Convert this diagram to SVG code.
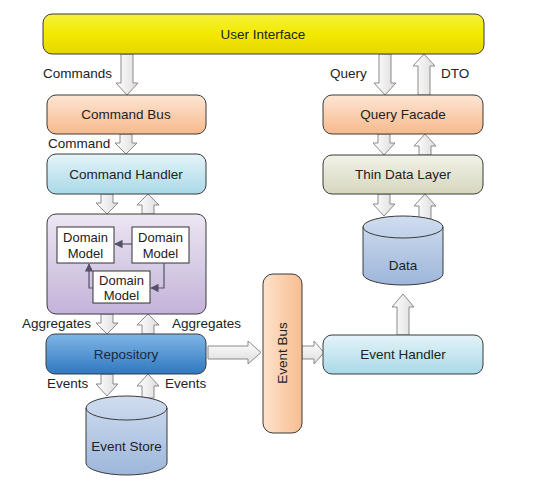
<svg xmlns="http://www.w3.org/2000/svg" width="537" height="486" viewBox="0 0 537 486">
<defs>
<linearGradient id="gYellow" x1="0" y1="0" x2="0" y2="1"><stop offset="0" stop-color="#f6f03a"/><stop offset="0.5" stop-color="#f2ea00"/><stop offset="1" stop-color="#e6d600"/></linearGradient>
<linearGradient id="gPeach" x1="0" y1="0" x2="0" y2="1"><stop offset="0" stop-color="#fde6d4"/><stop offset="1" stop-color="#f7b98c"/></linearGradient>
<linearGradient id="gPeachH" x1="0" y1="0" x2="1" y2="0"><stop offset="0" stop-color="#fde2cc"/><stop offset="1" stop-color="#f8bd90"/></linearGradient>
<linearGradient id="gCyan" x1="0" y1="0" x2="0" y2="1"><stop offset="0" stop-color="#e4f4f8"/><stop offset="1" stop-color="#a9d9e8"/></linearGradient>
<linearGradient id="gLav" x1="0" y1="0" x2="0" y2="1"><stop offset="0" stop-color="#ece6f2"/><stop offset="1" stop-color="#c3b3d9"/></linearGradient>
<linearGradient id="gBlue" x1="0" y1="0" x2="0" y2="1"><stop offset="0" stop-color="#7fb6e6"/><stop offset="1" stop-color="#2f78c0"/></linearGradient>
<linearGradient id="gOlive" x1="0" y1="0" x2="0" y2="1"><stop offset="0" stop-color="#f2f2e8"/><stop offset="1" stop-color="#d6d6bf"/></linearGradient>
<linearGradient id="gCyl" x1="0" y1="0" x2="0" y2="1"><stop offset="0" stop-color="#d0ddef"/><stop offset="1" stop-color="#9db6da"/></linearGradient>
<linearGradient id="gArrV" x1="0" y1="0" x2="1" y2="0"><stop offset="0" stop-color="#ffffff"/><stop offset="1" stop-color="#dcdcdc"/></linearGradient>
<linearGradient id="gArrH" x1="0" y1="0" x2="0" y2="1"><stop offset="0" stop-color="#ffffff"/><stop offset="1" stop-color="#dcdcdc"/></linearGradient>
<marker id="ah" viewBox="0 0 10 10" refX="9" refY="5" markerWidth="7" markerHeight="7" orient="auto"><path d="M0,0 L10,5 L0,10 Z" fill="#55506a"/></marker>
<style>
.box{stroke:#3a3a3a;stroke-width:1}
.t{font-family:"Liberation Sans",Arial,sans-serif;font-size:13.5px;fill:#222;text-anchor:middle}
.d{font-family:"Liberation Sans",Arial,sans-serif;font-size:13px;fill:#222;text-anchor:middle}
.l{font-family:"Liberation Sans",Arial,sans-serif;font-size:13.5px;fill:#222}
.av{fill:url(#gArrV);stroke:#8a8a8a;stroke-width:1}
.ah{fill:url(#gArrH);stroke:#8a8a8a;stroke-width:1}
.dm{fill:#fff;stroke:#333;stroke-width:1}
.ln{fill:none;stroke:#55506a;stroke-width:1.2;marker-end:url(#ah)}
</style>
</defs>
<rect width="537" height="486" fill="#ffffff"/>

<g id="connectors">
<path class="av" d="M121,54 H133 V83 H138 L127,95 L116,83 H121 Z"/>
<path class="av" d="M379,54 H391 V83 H396 L385,95 L374,83 H379 Z"/>
<path class="av" d="M418,95 H430 V66 H435 L424,54 L413,66 H418 Z"/>
<path class="av" d="M120,134 H132 V143 H137 L126,154 L115,143 H120 Z"/>
<path class="av" d="M101,194 H113 V203 H118 L107,214 L96,203 H101 Z"/>
<path class="av" d="M142,214 H154 V205 H159 L148,194 L137,205 H142 Z"/>
<path class="av" d="M101,314 H113 V323 H118 L107,334 L96,323 H101 Z"/>
<path class="av" d="M142,334 H154 V325 H159 L148,314 L137,325 H142 Z"/>
<path class="av" d="M101,374 H113 V384 H118 L107,396 L96,384 H101 Z"/>
<path class="av" d="M142,398 H154 V386 H159 L148,374 L137,386 H142 Z"/>
<path class="av" d="M378,134 H390 V143 H395 L384,155 L373,143 H378 Z"/>
<path class="av" d="M419,155 H431 V146 H436 L425,134 L414,146 H419 Z"/>
<path class="av" d="M378,194 H390 V204 H395 L384,216 L373,204 H378 Z"/>
<path class="av" d="M419,219 H431 V206 H436 L425,194 L414,206 H419 Z"/>
<path class="av" d="M397,335 H409 V307 H414 L403,294 L392,307 H397 Z"/>
<path class="ah" d="M208,346 V359 H248 V364 L261,352.5 L248,341 V346 Z"/>
<path class="ah" d="M302,346 V359 H314 V364 L324,352.5 L314,341 V346 Z"/>
</g>

<g id="user-interface">
<rect class="box" x="43" y="14" width="441" height="40" rx="9" fill="url(#gYellow)"/>
<text class="t" x="263" y="39">User Interface</text>
</g>

<g id="labels">
<text class="l" x="43" y="78">Commands</text>
<text class="l" x="330" y="78">Query</text>
<text class="l" x="441" y="78">DTO</text>
<text class="l" x="48" y="148">Command</text>
<text class="l" x="22" y="328">Aggregates</text>
<text class="l" x="172" y="328">Aggregates</text>
<text class="l" x="47" y="388">Events</text>
<text class="l" x="165" y="388">Events</text>
</g>

<g id="command-bus">
<rect class="box" x="47" y="95" width="159" height="39" rx="9" fill="url(#gPeach)"/>
<text class="t" x="126" y="119">Command Bus</text>
</g>

<g id="command-handler">
<rect class="box" x="47" y="154" width="159" height="40" rx="9" fill="url(#gCyan)"/>
<text class="t" x="126" y="179">Command Handler</text>
</g>

<g id="domain">
<rect class="box" x="47" y="214" width="159" height="100" rx="9" fill="url(#gLav)"/>
</g>

<g id="domain-model-1">
<rect class="dm" x="57" y="227" width="57" height="36"/>
<text class="d" x="85.5" y="242">Domain</text>
<text class="d" x="85.5" y="258">Model</text>
</g>
<g id="domain-model-2">
<rect class="dm" x="132" y="227" width="57" height="36"/>
<text class="d" x="160.5" y="242">Domain</text>
<text class="d" x="160.5" y="258">Model</text>
</g>
<g id="domain-model-3">
<rect class="dm" x="93" y="271" width="57" height="32"/>
<text class="d" x="121.5" y="285">Domain</text>
<text class="d" x="121.5" y="300">Model</text>
</g>
<g id="domain-connectors">
<path class="ln" d="M132,244 H115"/>
<path class="ln" d="M164,263 V288 H151"/>
<path class="ln" d="M93,288 H89 V264"/>
</g>

<g id="repository">
<rect class="box" x="46" y="334" width="160" height="40" rx="9" fill="url(#gBlue)"/>
<text class="t" x="126" y="359" style="fill:#1a2a40">Repository</text>
</g>

<g id="event-store">
<path class="box" d="M86,408 A40.5,12 0 0 1 167,408 V463 A40.5,12 0 0 1 86,463 Z" fill="url(#gCyl)"/>
<path d="M86,408 A40.5,12 0 0 0 167,408" fill="none" stroke="#3a3a3a"/>
<text class="t" x="126.5" y="451">Event Store</text>
</g>

<g id="event-bus">
<rect class="box" x="263" y="274" width="39" height="159" rx="10" fill="url(#gPeachH)"/>
<text class="t" transform="translate(287,353) rotate(-90)">Event Bus</text>
</g>

<g id="event-handler">
<rect class="box" x="323" y="335" width="160" height="39" rx="9" fill="url(#gCyan)"/>
<text class="t" x="403" y="359">Event Handler</text>
</g>

<g id="query-facade">
<rect class="box" x="323" y="95" width="160" height="39" rx="9" fill="url(#gPeach)"/>
<text class="t" x="403" y="119">Query Facade</text>
</g>

<g id="thin-data-layer">
<rect class="box" x="323" y="155" width="160" height="39" rx="9" fill="url(#gOlive)"/>
<text class="t" x="403" y="179">Thin Data Layer</text>
</g>

<g id="data">
<path class="box" d="M363,227 A40,11 0 0 1 443,227 V274 A40,11 0 0 1 363,274 Z" fill="url(#gCyl)"/>
<path d="M363,227 A40,11 0 0 0 443,227" fill="none" stroke="#3a3a3a"/>
<text class="t" x="403" y="270">Data</text>
</g>
</svg>
